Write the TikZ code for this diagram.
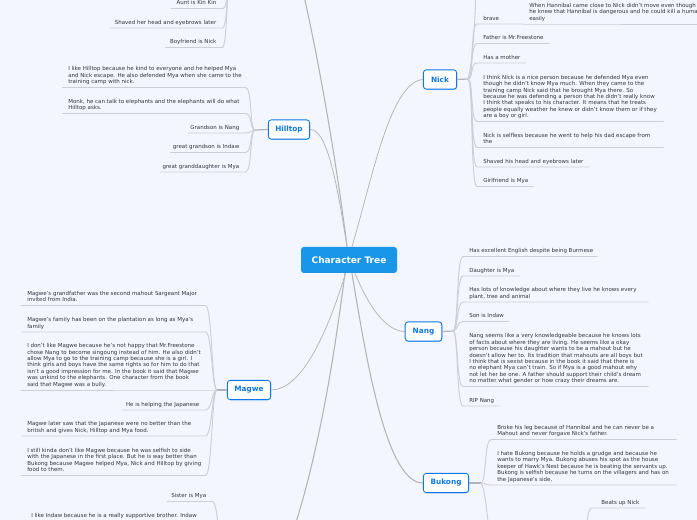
\documentclass[tikz,border=0pt]{standalone}
\usepackage{fontspec}
\setmainfont{DejaVu Sans}
\usetikzlibrary{shadows}
\definecolor{bgc}{HTML}{F3F6FF}
\definecolor{rootc}{HTML}{1A96E8}
\definecolor{topicc}{HTML}{0F78E6}
\definecolor{shadowc}{HTML}{8FC6F6}
\definecolor{linec}{HTML}{B4B4B4}
\definecolor{leafc}{HTML}{CDCED8}
\definecolor{textc}{HTML}{34343E}
\tikzset{
  rootnode/.style={draw=none,fill=rootc,rounded corners=2.2pt,minimum width=72pt,minimum height=19.5pt,inner sep=0pt,text=white,font=\fontsize{6.75}{7.5}\selectfont\bfseries},
  topic/.style={draw=topicc,line width=.65pt,fill=white,rounded corners=2.2pt,minimum height=14.4pt,inner sep=0pt,text=topicc,font=\fontsize{5.5}{7}\selectfont\bfseries,general shadow={fill=shadowc,shadow xshift=.35pt,shadow yshift=-.5pt}},
  leaf/.style={inner xsep=4.5pt,inner ysep=1.1pt,anchor=south west,text=textc,font=\fontsize{4.12}{4.84}\selectfont},
  plaintxt/.style={inner sep=0pt,anchor=base west,text=textc,font=\fontsize{4.12}{4.84}\selectfont},
  major/.style={draw=linec,line width=.8pt},
  minor/.style={draw=linec,line width=.55pt},
  branch/.style={draw=leafc,line width=.7pt},
  hubline/.style={draw=linec,line width=.9pt}
}
% name, x1, x2, y of the underline, text lines
\newcommand{\leafl}[5]{\pgfmathsetmacro{\lfw}{(#3-#2)*0.75-9}\node[leaf] (#1) at (#2,#4) {\makebox[\lfw pt][l]{\begin{tabular}[b]{@{}l@{}}#5\end{tabular}}};}
\newcommand{\leafr}[5]{\pgfmathsetmacro{\lfw}{(#3-#2)*0.75-9}\node[leaf] (#1) at (#2,#4) {\makebox[\lfw pt][r]{\begin{tabular}[b]{@{}r@{}}#5\end{tabular}}};}
\newcommand{\rlink}[2]{\draw[branch] (#1) to[out=0,in=180,out distance=4pt,in distance=5pt] (#2.south west) -- (#2.south east);}
\newcommand{\llink}[2]{\draw[branch] (#1) to[out=180,in=0,out distance=4pt,in distance=5pt] (#2.south east) -- (#2.south west);}
\begin{document}
\begin{tikzpicture}[x=0.75pt,y=-0.75pt]
\fill[bgc] (0,0) rectangle (697,520);
\useasboundingbox (0,0) rectangle (697,520);
\clip (0,0) rectangle (697,520);

% topic nodes
\node[rootnode] (root) at (349,260) {Character Tree};
\node[topic,minimum width=31pt] (hilltop) at (289,129.5) {Hilltop};
\node[topic,minimum width=25pt] (nick) at (440,79.5) {Nick};
\node[topic,minimum width=32.5pt] (magwe) at (249,390) {Magwe};
\node[topic,minimum width=27.5pt] (nang) at (423.5,331.5) {Nang};
\node[topic,minimum width=34pt] (bukong) at (446,483) {Bukong};

% off-picture ends and hubs
\coordinate (myaEnd) at (298,-30);
\coordinate (indawEnd) at (292,535);
\coordinate (myaHub) at (228,-40);
\coordinate (indawHub) at (222,560);
\coordinate (hilltopHub) at (255,130);
\coordinate (nickHub) at (468,79);
\coordinate (nickUp) at (476,-8);
\coordinate (magweHub) at (217,390);
\coordinate (nangHub) at (453,331);
\coordinate (bukongHub) at (481,483);
\coordinate (bukongDown) at (489,530);
\coordinate (beatsEnd) at (586,530);

% root connectors
\draw[major] ([xshift=-1.5pt]root.north) .. controls (335,150) and (315,40) .. (myaEnd);
\draw[minor] (hilltop.east) .. controls (328,129) and (338,190) .. ([xshift=-1.5pt]root.north);
\draw[minor] (nick.west) .. controls (390,82) and (372,180) .. ([xshift=2.2pt]root.north);
\draw[minor] (magwe.east) .. controls (300,390) and (325,340) .. ([xshift=-2.5pt]root.south);
\draw[major] ([xshift=-3pt]root.south) .. controls (335,350) and (320,450) .. (indawEnd);
\draw[major] ([xshift=2.2pt]root.south) .. controls (365,350) and (385,483) .. (bukong.west);
\draw[minor] (nang.west) .. controls (385,331) and (368,305) .. ([xshift=4.5pt]root.south);

% hub stems
\draw[hubline] (hilltop.west) -- (hilltopHub);
\draw[hubline] (nick.east) -- (nickHub);
\draw[hubline] (magwe.west) -- (magweHub);
\draw[hubline] (nang.east) -- (nangHub);
\draw[hubline] (bukong.east) -- (bukongHub);

% Mya (upper left)
\leafr{myaA}{171}{222}{8.5}{Aunt is Kin Kin}
\leafr{myaB}{110}{222}{28}{Shaved her head and eyebrows later}
\leafr{myaC}{165}{222}{47.5}{Boyfriend is Nick}
\draw[branch] (myaHub) .. controls (228,0) and (226,8.5) .. (myaA.south east) -- (myaA.south west);
\draw[branch] (myaHub) .. controls (228,0) and (226,28) .. (myaB.south east) -- (myaB.south west);
\draw[branch] (myaHub) .. controls (228,0) and (226,47.5) .. (myaC.south east) -- (myaC.south west);

% Hilltop
\leafl{hA}{62}{245}{87.5}{I like Hilltop because he kind to everyone and he helped Mya\\and Nick escape. He also defended Mya when she came to the\\training camp with nick.}
\leafl{hB}{62}{245}{113.5}{Monk, he can talk to elephants and the elephants will do what\\Hilltop asks.}
\leafr{hC}{188}{245}{133}{Grandson is Nang}
\leafr{hD}{170}{245}{152.5}{great grandson is Indaw}
\leafr{hE}{160}{245}{172}{great granddaughter is Mya}
\llink{hilltopHub}{hA}\llink{hilltopHub}{hB}\llink{hilltopHub}{hC}\llink{hilltopHub}{hD}\llink{hilltopHub}{hE}

% Nick
\leafl{nBrave}{477}{523}{24}{brave}
\leafl{nHann}{523}{720}{24}{When Hannibal came close to Nick didn't move even though\\he knew that Hannibal is dangerous and he could kill a human\\easily}
\leafl{nB}{477}{549}{43.5}{Father is Mr.Freestone}
\leafl{nC}{477}{525}{63}{Has a mother}
\leafl{nD}{477}{663}{121.5}{I think Nick is a nice person because he defended Mya even\\though he didn't know Mya much. When they came to the\\training camp Nick said that he brought Mya there. So\\because he was defending a person that he didn't really know\\I think that speaks to his character. It means that he treats\\people equally weather he knew or didn't know them or if they\\are a boy or girl.}
\leafl{nE}{477}{663}{147.5}{Nick is selfless because he went to help his dad escape from\\the}
\leafl{nF}{477}{589}{167}{Shaved his head and eyebrows later}
\leafl{nG}{477}{533}{186.5}{Girlfriend is Mya}
\rlink{nickHub}{nBrave}\rlink{nickHub}{nB}\rlink{nickHub}{nC}\rlink{nickHub}{nD}\rlink{nickHub}{nE}\rlink{nickHub}{nF}\rlink{nickHub}{nG}
\draw[branch] (nBrave.south east) -- (nHann.south west) -- (nHann.south east);
\draw[branch] (nickHub) .. controls (473,60) and (475,20) .. (nickUp);

% Magwe
\leafl{mA}{21}{205}{305.5}{Magwe's grandfather was the second mahout Sargeant Major\\invited from India.}
\leafl{mB}{21}{205}{332}{Magwe's family has been on the plantation as long as Mya's\\family}
\leafl{mC}{21}{205}{390}{I don't like Magwe because he's not happy that Mr.Freestone\\chose Nang to become singoung instead of him. He also didn't\\allow Mya to go to the training camp because she is a girl. I\\think girls and boys have the same rights so for him to do that\\isn't a good impression for me. In the book it said that Magwe\\was unkind to the elephants. One character from the book\\said that Magwe was a bully.}
\leafr{mD}{122}{205}{410}{He is helping the Japanese}
\leafl{mE}{21}{205}{436}{Magwe later saw that the Japanese were no better than the\\british and gives Nick, Hilltop and Mya food.}
\leafl{mF}{21}{205}{475.5}{I still kinda don't like Magwe because he was selfish to side\\with the Japanese in the first place. But he is way better than\\Bukong because Magwe helped Mya, Nick and Hilltop by giving\\food to them.}
\llink{magweHub}{mA}\llink{magweHub}{mB}\llink{magweHub}{mC}\llink{magweHub}{mD}\llink{magweHub}{mE}\llink{magweHub}{mF}

% Indaw (lower left)
\leafr{iA}{167}{212}{501.5}{Sister is Mya}
\draw[branch] (indawHub) .. controls (218,530) and (217,501.5) .. (iA.south east) -- (iA.south west);
\node[plaintxt] (iB) at (31,517.5) {I like Indaw because he is a really supportive brother. Indaw};

% Nang
\leafl{gA}{463}{597}{256.5}{Has excellent English despite being Burmese}
\leafl{gB}{463}{519}{276}{Daughter is Mya}
\leafl{gC}{463}{648}{302}{Has lots of knowledge about where they live he knows every\\plant, tree and animal}
\leafl{gD}{463}{509}{321.5}{Son is Indaw}
\leafl{gE}{463}{648}{386.5}{Nang seems like a very knowledgeable because he knows lots\\of facts about where they are living. He seems like a okay\\person because his daughter wants to be a mahout but he\\doesn't allow her to. Its tradition that mahouts are all boys but\\I think that is sexist because in the book it said that there is\\no elephant Mya can't train. So if Mya is a good mahout why\\not let her be one. A father should support their child's dream\\no matter what gender or how crazy their dreams are.}
\leafl{gF}{463}{499}{406}{RIP Nang}
\rlink{nangHub}{gA}\rlink{nangHub}{gB}\rlink{nangHub}{gC}\rlink{nangHub}{gD}\rlink{nangHub}{gE}\rlink{nangHub}{gF}

% Bukong
\leafl{bA}{491}{676}{439.5}{Broke his leg because of Hannibal and he can never be a\\Mahout and never forgave Nick's father.}
\leafl{bB}{491}{676}{485}{I hate Bukong because he holds a grudge and because he\\wants to marry Mya. Bukong abuses his spot as the house\\keeper of Hawk's Nest because he is beating the servants up.\\Bukong is selfish because he turns on the villagers and has on\\the Japanese's side.}
\leafr{bC}{591}{645}{508}{Beats up Nick}
\rlink{bukongHub}{bA}\rlink{bukongHub}{bB}
\draw[branch] (bukongHub) .. controls (485,490) and (486,505) .. (bukongDown);
\draw[branch] (beatsEnd) .. controls (587,515) and (590,508) .. (bC.south west) -- (bC.south east);
\end{tikzpicture}
\end{document}
